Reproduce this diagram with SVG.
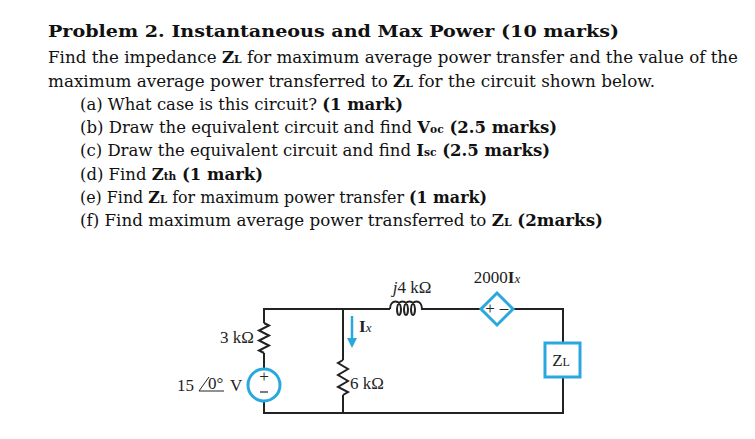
<svg xmlns="http://www.w3.org/2000/svg" width="755" height="439" viewBox="0 0 755 439">
<style>
.t{font-family:"DejaVu Serif","Liberation Serif",serif;font-size:17px;fill:#111}
.b{font-weight:bold}
.c{font-family:"Liberation Serif",serif;font-size:17px;fill:#222}
.w{stroke:#222;stroke-width:2;fill:none}
.bl{stroke:#29a8e0;stroke-width:3;fill:#fff}
</style>
<rect width="755" height="439" fill="#fff"/>
<g id="text">
<text class="t b" x="48" y="37" font-size="19" textLength="571" lengthAdjust="spacingAndGlyphs">Problem 2. Instantaneous and Max Power (10 marks)</text>
<text class="t" x="48" y="63" textLength="690" lengthAdjust="spacingAndGlyphs">Find the impedance <tspan class="b">Z<tspan font-size="11">L</tspan></tspan> for maximum average power transfer and the value of the</text>
<text class="t" x="48" y="87" textLength="607" lengthAdjust="spacingAndGlyphs">maximum average power transferred to <tspan class="b">Z<tspan font-size="11">L</tspan></tspan> for the circuit shown below.</text>
<text class="t" x="80" y="110" textLength="323" lengthAdjust="spacingAndGlyphs">(a) What case is this circuit? <tspan class="b">(1 mark)</tspan></text>
<text class="t" x="80" y="133" textLength="477" lengthAdjust="spacingAndGlyphs">(b) Draw the equivalent circuit and find <tspan class="b">V<tspan font-size="11">oc</tspan> (2.5 marks)</tspan></text>
<text class="t" x="80" y="156" textLength="470" lengthAdjust="spacingAndGlyphs">(c) Draw the equivalent circuit and find <tspan class="b">I<tspan font-size="11">sc</tspan> (2.5 marks)</tspan></text>
<text class="t" x="80" y="180" textLength="183" lengthAdjust="spacingAndGlyphs">(d) Find <tspan class="b">Z<tspan font-size="11">th</tspan> (1 mark)</tspan></text>
<text class="t" x="80" y="203" textLength="407" lengthAdjust="spacingAndGlyphs">(e) Find <tspan class="b">Z<tspan font-size="11">L</tspan></tspan> for maximum power transfer <tspan class="b">(1 mark)</tspan></text>
<text class="t" x="80" y="226" textLength="523" lengthAdjust="spacingAndGlyphs">(f) Find maximum average power transferred to <tspan class="b">Z<tspan font-size="11">L</tspan> (2marks)</tspan></text>
</g>
<g id="connectors">
<path class="w" d="M264,323 V309 H390 M434,309 H483 M511,309 H563 V342 M563,377 V413 H264 V402 M264,368 V353 M343,309 V360 M343,395 V413"/>
</g>
<g id="r3k"><path class="w" d="M264,323 l5,2.5 l-10,5 l10,5 l-10,5 l10,5 l-10,5 l5,2.5"/><text class="c" x="254" y="343" text-anchor="end">3 kΩ</text></g>
<g id="r6k"><path class="w" d="M343,360 l-5,3 l10,6 l-10,6 l10,6 l-10,6 l10,5 l-5,3"/><text class="c" x="350" y="389">6 kΩ</text></g>
<g id="ind"><path class="w" d="M390,309 c0,-10 11,-10 11,0 c0,8 -4,8 -4,0 c0,-10 11,-10 11,0 c0,8 -4,8 -4,0 c0,-10 11,-10 11,0 c0,8 -4,8 -4,0 c0,-10 11,-10 11,0 H434"/><text class="c" x="412" y="293" text-anchor="middle"><tspan font-style="italic">j</tspan>4 kΩ</text></g>
<g id="dep"><path class="bl" d="M497,293 L513,309 L497,325 L481,309 Z" stroke-width="2.5"/><text class="c" x="490" y="314" text-anchor="middle" font-size="12">+</text><text class="c" x="504" y="313" text-anchor="middle" font-size="13">–</text><text class="c" x="497" y="283" text-anchor="middle">2000<tspan font-weight="bold">I</tspan><tspan font-style="italic" font-size="13">x</tspan></text></g>
<g id="zl"><rect class="bl" x="545" y="343" width="35" height="34"/><text class="c" x="561" y="366" text-anchor="middle">Z<tspan font-size="12">L</tspan></text></g>
<g id="src"><circle class="bl" cx="264" cy="385" r="16" stroke-width="2.5"/><text class="c" x="264" y="382" text-anchor="middle" font-size="13">+</text><line x1="260" y1="392" x2="268" y2="392" stroke="#222" stroke-width="1.2"/><text class="c" x="177" y="391">15</text><path d="M209,377 L199,391 H224" stroke="#222" stroke-width="1" fill="none"/><text class="c" x="208" y="389" font-size="12">0°</text><text class="c" x="230" y="391">V</text></g>
<g id="ix"><line x1="352" y1="316" x2="352" y2="340" stroke="#29a8e0" stroke-width="2.5"/><path d="M347,338 L357,338 L352,348 Z" fill="#29a8e0"/><text class="c" x="359" y="332" font-weight="bold">I<tspan font-style="italic" font-weight="normal" font-size="13">x</tspan></text></g>
</svg>
